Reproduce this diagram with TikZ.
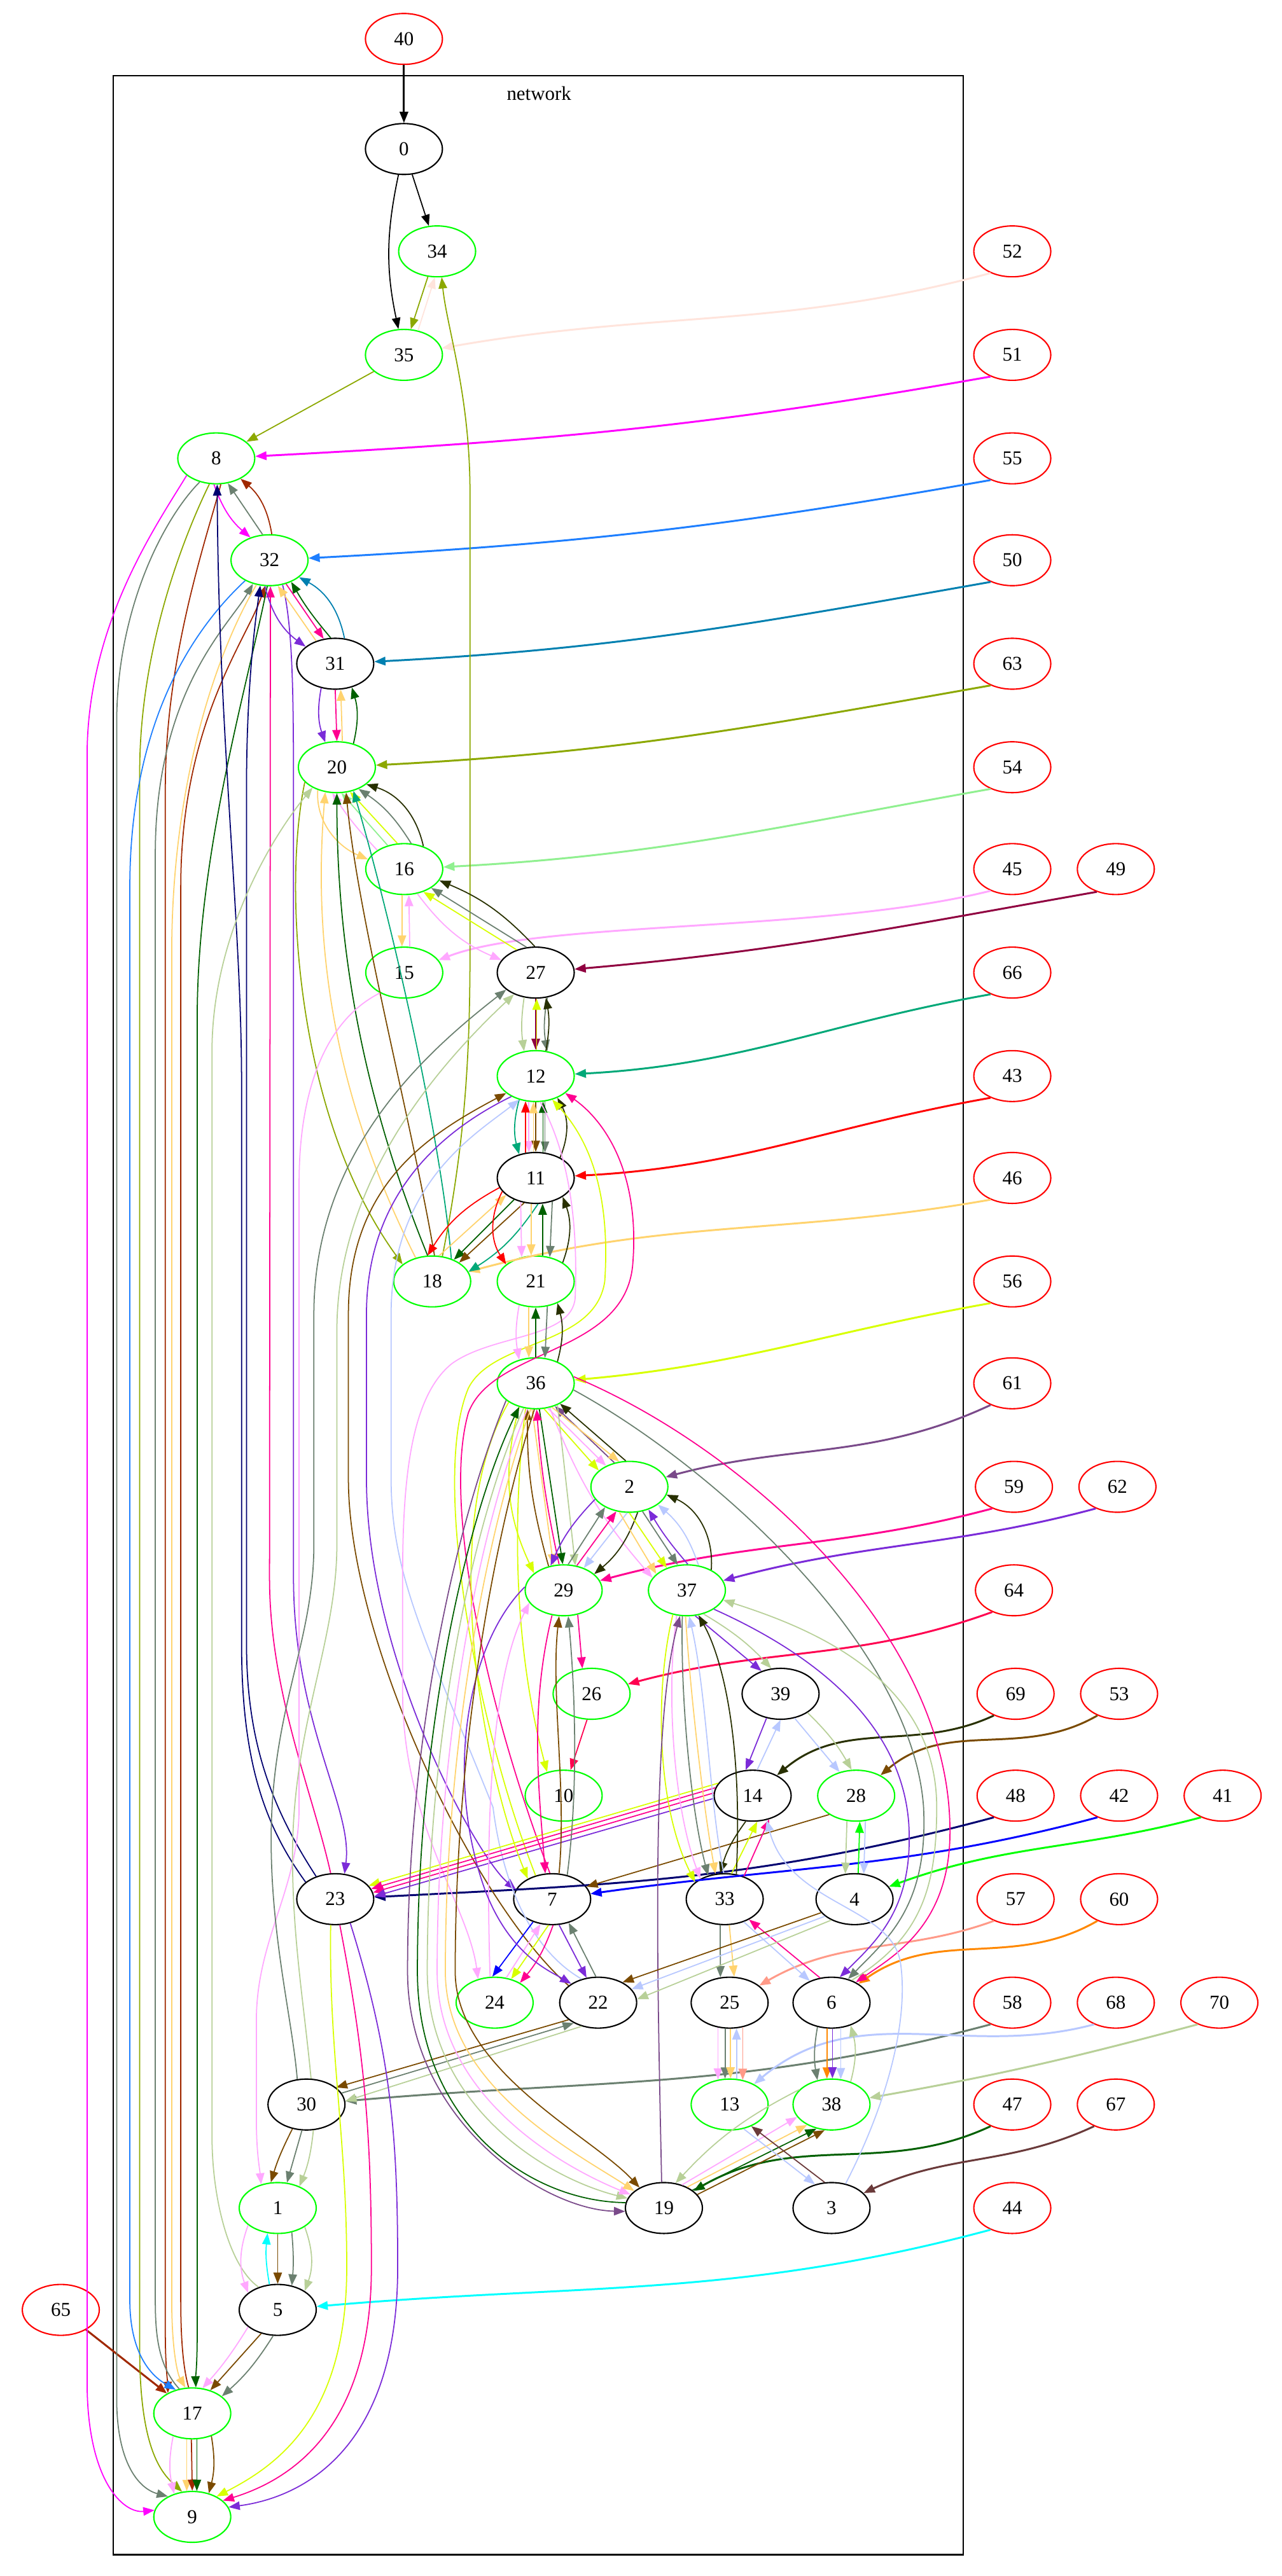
\documentclass[tikz,border=0pt]{standalone}
\usepackage{fontspec}
\setmainfont{Liberation Serif}
\usetikzlibrary{shapes.geometric,arrows.meta}
\definecolor{cOlive}{HTML}{8CA800}
\definecolor{cMag}{HTML}{FF00FF}
\definecolor{cGG}{HTML}{6B8070}
\definecolor{cRB}{HTML}{A02800}
\definecolor{cDodger}{HTML}{1E7FFF}
\definecolor{cTB}{HTML}{0080B0}
\definecolor{cLO}{HTML}{FFD36E}
\definecolor{cLG}{HTML}{90F090}
\definecolor{cPV}{HTML}{FFA8FF}
\definecolor{cCr}{HTML}{900040}
\definecolor{cGT}{HTML}{00A878}
\definecolor{cYel}{HTML}{D8FF00}
\definecolor{cPlum}{HTML}{7A4A8A}
\definecolor{cDP}{HTML}{FF0090}
\definecolor{cPur}{HTML}{7B2BD8}
\definecolor{cCP}{HTML}{FF0050}
\definecolor{cDO}{HTML}{283000}
\definecolor{cBr}{HTML}{7A4A00}
\definecolor{cNavy}{HTML}{000070}
\definecolor{cBlue}{HTML}{0000FF}
\definecolor{cGreen}{HTML}{00FF00}
\definecolor{cSal}{HTML}{FF9A88}
\definecolor{cOr}{HTML}{FF8800}
\definecolor{cLav}{HTML}{B8C8FF}
\definecolor{cLOl}{HTML}{B8D098}
\definecolor{cDG}{HTML}{006000}
\definecolor{cMar}{HTML}{6A3A3A}
\definecolor{cCyan}{HTML}{00FFFF}
\definecolor{cVLP}{HTML}{FFE4DC}
\begin{document}
\begin{tikzpicture}[x=0.025833cm,y=0.025833cm,
  nd/.style={ellipse, draw, line width=0.6pt, minimum width=1.21cm, minimum height=0.8cm, inner sep=0pt, font=\fontsize{8.8}{10}\selectfont},
  gn/.style={nd, draw=cGreen},
  bk/.style={nd, draw=black},
  rd/.style={nd, draw=red},
  e/.style={-{Triangle[length=5pt,width=3.8pt]}, line width=0.5pt},
  th/.style={line width=0.85pt}]
\fill[white] (0,0) rectangle (780,-1568);
\useasboundingbox (0,0) rectangle (780,-1568);
\draw[line width=0.6pt] (69,-46) rectangle (586,-1555);
\node[font=\fontsize{8.8}{10}\selectfont] (lbl) at (328,-57) {network};
% nodes
\node[rd] (n40) at (245.8,-23.7) {40};
\node[bk] (n0) at (245.8,-90.7) {0};
\node[gn] (n34) at (266,-153) {34};
\node[gn] (n35) at (245.8,-216) {35};
\node[gn] (n8) at (131.6,-279) {8};
\node[gn] (n32) at (164,-341) {32};
\node[bk] (n31) at (204,-404) {31};
\node[gn] (n20) at (205,-467) {20};
\node[gn] (n16) at (246,-529) {16};
\node[gn] (n15) at (246,-592) {15};
\node[bk] (n27) at (326,-592) {27};
\node[gn] (n12) at (326,-655) {12};
\node[bk] (n11) at (326,-717) {11};
\node[gn] (n18) at (263,-780) {18};
\node[gn] (n21) at (326,-780) {21};
\node[gn] (n36) at (326,-842) {36};
\node[gn] (n2) at (383,-905) {2};
\node[gn] (n29) at (343,-968) {29};
\node[gn] (n37) at (418,-968) {37};
\node[gn] (n26) at (360,-1031) {26};
\node[bk] (n39) at (475,-1031) {39};
\node[gn] (n10) at (343,-1093) {10};
\node[bk] (n14) at (458,-1093) {14};
\node[gn] (n28) at (521,-1093) {28};
\node[bk] (n23) at (204,-1156) {23};
\node[bk] (n7) at (336,-1156) {7};
\node[bk] (n33) at (441,-1156) {33};
\node[bk] (n4) at (520,-1156) {4};
\node[gn] (n24) at (301,-1219) {24};
\node[bk] (n22) at (364,-1219) {22};
\node[bk] (n25) at (444,-1219) {25};
\node[bk] (n6) at (506,-1219) {6};
\node[bk] (n30) at (186.5,-1281) {30};
\node[gn] (n13) at (444,-1281) {13};
\node[gn] (n38) at (506,-1281) {38};
\node[gn] (n1) at (169,-1344) {1};
\node[bk] (n19) at (404,-1344) {19};
\node[bk] (n3) at (506,-1344) {3};
\node[bk] (n5) at (169,-1406) {5};
\node[gn] (n17) at (117,-1469) {17};
\node[gn] (n9) at (117,-1532) {9};
% external nodes
\node[rd] (n52) at (616,-153) {52};
\node[rd] (n51) at (616,-216) {51};
\node[rd] (n55) at (616,-279) {55};
\node[rd] (n50) at (616,-341) {50};
\node[rd] (n63) at (616,-404) {63};
\node[rd] (n54) at (616,-467) {54};
\node[rd] (n45) at (616,-529) {45};
\node[rd] (n49) at (679,-529) {49};
\node[rd] (n66) at (616,-592) {66};
\node[rd] (n43) at (616,-655) {43};
\node[rd] (n46) at (616,-717) {46};
\node[rd] (n56) at (616,-780) {56};
\node[rd] (n61) at (616,-842) {61};
\node[rd] (n59) at (617,-905) {59};
\node[rd] (n62) at (680,-905) {62};
\node[rd] (n64) at (617,-968) {64};
\node[rd] (n69) at (618,-1031) {69};
\node[rd] (n53) at (681,-1031) {53};
\node[rd] (n48) at (618,-1093) {48};
\node[rd] (n42) at (681,-1093) {42};
\node[rd] (n41) at (744,-1093) {41};
\node[rd] (n57) at (618,-1156) {57};
\node[rd] (n60) at (681,-1156) {60};
\node[rd] (n58) at (616,-1219) {58};
\node[rd] (n68) at (679,-1219) {68};
\node[rd] (n70) at (742,-1219) {70};
\node[rd] (n47) at (616,-1281) {47};
\node[rd] (n67) at (679,-1281) {67};
\node[rd] (n44) at (616,-1344) {44};
\node[rd] (n65) at (37,-1406) {65};
% external edges
\draw[e,th] (n40) -- (n0);
\draw[e,th,cVLP] (n52.225) to[out=195,in=10] (n35);
\draw[e,th,cMag] (n51.225) to[out=190,in=3] (n8);
\draw[e,th,cDodger] (n55.225) to[out=190,in=3] (n32);
\draw[e,th,cTB] (n50.225) to[out=190,in=3] (n31);
\draw[e,th,cOlive] (n63.225) to[out=190,in=3] (n20);
\draw[e,th,cLG] (n54.225) to[out=190,in=3] (n16);
\draw[e,th,cPV] (n45.225) .. controls (500,-568) and (330,-560) .. (n15.20);
\draw[e,th,cCr] (n49.230) to[out=190,in=5] (n27);
\draw[e,th,cGT] (n66.225) to[out=190,in=3] (n12);
\draw[e,th,red] (n43.225) to[out=190,in=3] (n11);
\draw[e,th,cLO] (n46.225) to[out=190,in=15] (n18);
\draw[e,th,cYel] (n56.225) to[out=190,in=5] (n36);
\draw[e,th,cPlum] (n61.225) to[out=205,in=15] (n2);
\draw[e,th,cDP] (n59.225) to[out=195,in=15] (n29);
\draw[e,th,cPur] (n62.225) to[out=195,in=15] (n37);
\draw[e,th,cCP] (n64.225) to[out=200,in=15] (n26);
\draw[e,th,cDO] (n69.225) to[out=205,in=40] (n14);
\draw[e,th,cBr] (n53.225) to[out=210,in=40] (n28);
\draw[e,th,cNavy] (n48.225) to[out=195,in=3] (n23);
\draw[e,th,cBlue] (n42.225) to[out=195,in=8] (n7);
\draw[e,th,cGreen] (n41.225) to[out=195,in=20] (n4);
\draw[e,th,cSal] (n57.225) to[out=200,in=30] (n25);
\draw[e,th,cOr] (n60.225) to[out=210,in=35] (n6);
\draw[e,th,cGG] (n58.225) to[out=195,in=5] (n30);
\draw[e,th,cLav] (n68.225) to[out=195,in=40] (n13);
\draw[e,th,cLOl] (n70.225) to[out=195,in=10] (n38);
\draw[e,th,cDG] (n47.225) to[out=205,in=30] (n19);
\draw[e,th,cMar] (n67.225) to[out=205,in=25] (n3);
\draw[e,th,cCyan] (n44.225) to[out=195,in=5] (n5);
\draw[e,th,cRB] (n65) -- (n17);
% top
\draw[e] (n0) -- (n34);
\draw[e] (n0) to[bend right=12] (n35);
\draw[e,cOlive] (n34.-110) -- (n35.75);
\draw[e,cVLP] (n35.60) -- (n34.-95);
\draw[e,cOlive] (n35) -- (n8);
% 8 / 32
\draw[e,cMag] (n8.-95) to[bend right=15] (n32.130);
\draw[e,cGG] (n32.105) -- (n8.-65);
\draw[e,cRB] (n32.85) to[bend right=20] (n8.-40);
\draw[e,cMag] (n8.-150) .. controls (95,-320) and (53,-380) .. (53,-460) -- (53,-1450) .. controls (53,-1510) and (75,-1530) .. (n9.170);
\draw[e,cGG] (n8.-125) .. controls (100,-315) and (71,-370) .. (71,-440) -- (71,-1460) .. controls (71,-1500) and (85,-1515) .. (n9.140);
\draw[e,cOlive] (n8.-105) .. controls (115,-320) and (85,-390) .. (85,-470) -- (85,-1430) .. controls (85,-1490) and (98,-1505) .. (n9.112);
\draw[e,cRB] (n8.-80) .. controls (125,-330) and (100.6,-400) .. (100.6,-480) -- (100.6,-1420) .. controls (100.6,-1440) and (102,-1450) .. (n17.140);
\draw[e,cDodger] (n32.-140) .. controls (110,-390) and (79,-450) .. (79,-540) -- (79,-1400) .. controls (79,-1430) and (90,-1445) .. (n17.125);
\draw[e,cGG] (n17.118) .. controls (96,-1440) and (94.5,-1420) .. (94.5,-1400) -- (94.5,-520) .. controls (94.5,-420) and (140,-380) .. (n32.-125);
\draw[e,cLO] (n32.-118) .. controls (130,-400) and (104.5,-480) .. (104.5,-580) -- (104.5,-1400) .. controls (104.5,-1430) and (108,-1445) .. (n17.105);
\draw[e,cRB] (n17.98) .. controls (111,-1440) and (110,-1420) .. (110,-1400) -- (110,-540) .. controls (110,-440) and (150,-390) .. (n32.-100);
\draw[e,cDG] (n32.-95) .. controls (150,-420) and (120,-520) .. (120,-620) -- (120,-1420) .. controls (120,-1440) and (119,-1448) .. (n17.82);
\draw[e,cNavy] (n23.150) .. controls (160,-1110) and (147,-1070) .. (147,-1000) -- (147,-660) .. controls (147,-560) and (133,-450) .. (n8.-88);
\draw[e,cNavy] (n23.130) .. controls (165,-1100) and (150,-1060) .. (150,-1000) -- (150,-480) .. controls (150,-420) and (155,-380) .. (n32.-110);
\draw[e,cDP] (n23.100) .. controls (190,-1090) and (164,-1030) .. (164,-960) -- (n32.-88);
\draw[e,cPur] (n32.-62) .. controls (178,-380) and (178.6,-420) .. (178.6,-480) -- (178.6,-960) .. controls (178.6,-1050) and (215,-1100) .. (n23.70);
% 31
\draw[e,cPur] (n32.-100) to[bend right=20] (n31.150);
\draw[e,cDP] (n32.-55) -- (n31.115);
\draw[e,cDG] (n31.100) to[bend left=5] (n32.-45);
\draw[e,cTB] (n31.70) to[bend right=25] (n32.-30);
\draw[e,cLO] (n31.130) -- (n32.-72);
\draw[e,cPur] (n31.-120) to[bend right=15] (n20.115);
\draw[e,cDP] (n31.-90) -- (n20.90);
\draw[e,cLO] (n20.78) -- (n31.-78);
\draw[e,cDG] (n20.55) to[bend right=15] (n31.-55);
% 20 / 16 / 18
\draw[e,cOlive] (n20.-155) .. controls (172,-540) and (180,-680) .. (n18.150);
\draw[e,cLO] (n20.-130) .. controls (192,-500) and (205,-515) .. (n16.165);
\draw[e,cPV] (n16.145) to[bend left=5] (n20.-100);
\draw[e,cLG] (n16.125) -- (n20.-80);
\draw[e,cYel] (n16.105) -- (n20.-62);
\draw[e,cGG] (n16.75) to[bend right=12] (n20.-45);
\draw[e,cDO] (n16.50) to[bend right=30] (n20.-30);
\draw[e,cLO] (n18.125) .. controls (215,-690) and (188,-600) .. (n20.-115);
\draw[e,cDG] (n18.100) .. controls (230,-690) and (205,-600) .. (n20.-90);
\draw[e,cBr] (n18.85) .. controls (250,-680) and (218,-560) .. (n20.-70);
\draw[e,cGT] (n18.50) .. controls (268,-690) and (238,-560) .. (n20.-55);
\draw[e,cOlive] (n18.68) .. controls (282,-700) and (286,-650) .. (286,-580) -- (286,-300) .. controls (286,-240) and (272,-200) .. (n34.-80);
\draw[e,cLOl] (n5.130) .. controls (140,-1380) and (129,-1340) .. (129,-1300) -- (129,-640) .. controls (129,-570) and (165,-510) .. (n20.-140);
% 16 / 15 / 27
\draw[e,cLO] (n16.-95) -- (n15.95);
\draw[e,cPV] (n15.78) -- (n16.-80);
\draw[e,cPV] (n16.-62) to[bend right=15] (n27.160);
\draw[e,cYel] (n27.130) -- (n16.-50);
\draw[e,cGG] (n27.110) -- (n16.-35);
\draw[e,cDO] (n27.92) to[bend right=12] (n16.-18);
\draw[e,cPV] (n15.-140) .. controls (200,-620) and (182,-660) .. (182,-720) -- (182,-1100) .. controls (182,-1150) and (156,-1180) .. (156,-1230) -- (156,-1290) .. controls (156,-1310) and (158,-1320) .. (n1.125);
% 27 / 12
\draw[e,cLOl] (n27.-115) to[bend right=8] (n12.115);
\draw[e,cCr] (n27.-90) -- (n12.90);
\draw[e,cYel] (n12.88) -- (n27.-88);
\draw[e,cGG] (n27.-65) to[bend right=10] (n12.65);
\draw[e,cDO] (n12.68) to[bend right=10] (n27.-68);
\draw[e,cGG] (n30.110) .. controls (178,-1230) and (165,-1180) .. (165,-1120) .. controls (165,-1040) and (191,-1000) .. (191,-940) -- (191,-800) .. controls (191,-700) and (260,-640) .. (n27.-150);
\draw[e,cLOl] (n30.80) .. controls (185,-1220) and (178,-1180) .. (178,-1130) .. controls (178,-1050) and (205,-1000) .. (205,-940) -- (205,-810) .. controls (205,-720) and (265,-650) .. (n27.-135);
% 12 / 11
\draw[e,cGT] (n12.-125) to[bend right=15] (n11.125);
\draw[e,cPV] (n12.-105) -- (n11.105);
\draw[e,red] (n11.112) -- (n12.-112);
\draw[e,cBr] (n12.-90) -- (n11.90);
\draw[e,cLO] (n11.95) -- (n12.-95);
\draw[e,cGG] (n12.-70) -- (n11.70);
\draw[e,cDG] (n11.74) -- (n12.-74);
\draw[e,cDO] (n11.40) to[bend right=25] (n12.-45);
\draw[e,cBr] (n22.150) .. controls (290,-1160) and (212,-1000) .. (212,-900) -- (212,-800) .. controls (212,-720) and (262,-690) .. (n12.-150);
\draw[e,cPur] (n12.-140) .. controls (265,-690) and (223,-730) .. (223,-800) -- (223,-900) .. controls (223,-1010) and (290,-1130) .. (n7.165);
\draw[e,cLav] (n22.125) .. controls (320,-1185) and (305,-1140) .. (300,-1100) .. controls (260,-1000) and (238,-960) .. (238,-900) -- (238,-800) .. controls (238,-720) and (290,-690) .. (n12.-125);
\draw[e,cYel] (n7.125) .. controls (290,-1050) and (262,-900) .. (285,-845) .. controls (300,-815) and (362,-820) .. (368,-780) .. controls (372,-720) and (355,-690) .. (n12.-55);
\draw[e,cDP] (n7.95) .. controls (300,-1050) and (268,-920) .. (285,-860) .. controls (300,-820) and (380,-825) .. (385,-770) .. controls (390,-710) and (365,-680) .. (n12.-30);
\draw[e,cPV] (n12.-80) .. controls (345,-700) and (352,-740) .. (350,-790) .. controls (348,-815) and (300,-812) .. (275,-830) .. controls (250,-850) and (245,-900) .. (245,-960) -- (245,-1030) .. controls (245,-1110) and (285,-1160) .. (n24.125);
% 11 / 18 / 21
\draw[e,red] (n11.-165) to[bend right=15] (n18.100);
\draw[e,cLO] (n18.75) -- (n11.-150);
\draw[e,cDG] (n11.-135) -- (n18.45);
\draw[e,cBr] (n11.-115) -- (n18.35);
\draw[e,cGT] (n11.-85) to[bend left=12] (n18.15);
\draw[e,red] (n11.-158) to[bend right=30] (n21.150);
\draw[e,cPV] (n11.-122) -- (n21.120);
\draw[e,cLO] (n11.-100) -- (n21.100);
\draw[e,cDG] (n21.75) -- (n11.-75);
\draw[e,cGG] (n11.-55) -- (n21.60);
\draw[e,cDO] (n21.35) to[bend right=20] (n11.-35);
% 21 / 36
\draw[e,cPV] (n21.-125) to[bend right=10] (n36.125);
\draw[e,cLO] (n21.-105) -- (n36.105);
\draw[e,cDG] (n36.90) -- (n21.-90);
\draw[e,cGG] (n21.-65) -- (n36.70);
\draw[e,cDO] (n36.45) to[bend right=15] (n21.-45);
% 36 / 2 / 29 / 37
\draw[e,cYel] (n36.-72) -- (n2.152);
\draw[e,cPV] (n36.-64) -- (n2.138);
\draw[e,cPlum] (n2.122) -- (n36.-50);
\draw[e,cLO] (n36.-56) -- (n2.112);
\draw[e,cDO] (n2.98) -- (n36.-40);
\draw[e,cYel] (n36.-125) to[bend right=20] (n29.150);
\draw[e,cLO] (n36.-98) -- (n29.112);
\draw[e,cDG] (n36.-82) -- (n29.92);
\draw[e,cBr] (n29.122) to[bend left=8] (n36.-108);
\draw[e,cDP] (n29.100) to[bend left=4] (n36.-88);
\draw[e,cLOl] (n36.-45) -- (n29.65);
\draw[e,cPV] (n36.-60) to[bend right=10] (n37.160);
\draw[e,cGG] (n29.80) -- (n2.-140);
\draw[e,cDP] (n29.62) -- (n2.-118);
\draw[e,cPur] (n2.-160) to[bend right=10] (n29.118);
\draw[e,cLav] (n2.-95) -- (n29.48);
\draw[e,cDO] (n2.-72) to[bend left=15] (n29.28);
\draw[e,cGG] (n2.-62) -- (n37.110);
\draw[e,cLO] (n2.-112) -- (n37.152);
\draw[e,cYel] (n2.-90) -- (n37.132);
\draw[e,cPur] (n37.88) to[bend left=5] (n2.-50);
\draw[e,cLav] (n37.65) to[bend right=15] (n2.-32);
\draw[e,cDO] (n37.40) to[bend right=35] (n2.-12);
% right bulge to 6
\draw[e,cDP] (n36.10) .. controls (450,-880) and (575,-990) .. (578,-1110) .. controls (580,-1170) and (545,-1190) .. (n6.40);
\draw[e,cGG] (n36.-10) .. controls (430,-890) and (555,-1000) .. (562,-1100) .. controls (565,-1160) and (540,-1180) .. (n6.55);
\draw[e,cPur] (n37.-35) .. controls (480,-1000) and (548,-1040) .. (553,-1110) .. controls (556,-1160) and (535,-1180) .. (n6.72);
\draw[e,cLOl] (n6.48) .. controls (560,-1180) and (570,-1150) .. (570,-1100) .. controls (570,-1020) and (490,-990) .. (n37.-15);
% 29 / 26 / 10
\draw[e,cDP] (n29.-60) -- (n26.110);
\draw[e,cCP] (n26.-100) -- (n10.75);
\draw[e,cYel] (n36.-112) .. controls (312,-920) and (312,-1000) .. (n10.125);
% 37 / 39 / 14 / 28 / 4
\draw[e,cPur] (n37.-72) -- (n39.130);
\draw[e,cLOl] (n37.-55) to[bend left=8] (n39.110);
\draw[e,cPur] (n39.-120) -- (n14.105);
\draw[e,cLav] (n14.80) -- (n39.-90);
\draw[e,cLav] (n39.-60) -- (n28.125);
\draw[e,cLOl] (n39.-35) to[bend left=8] (n28.100);
\draw[e,cLOl] (n28.-110) -- (n4.110);
\draw[e,cGreen] (n4.82) -- (n28.-82);
\draw[e,cLav] (n28.-70) -- (n4.70);
\draw[e,cBr] (n28.-145) -- (n7.20);
% 14 / 23
\draw[e,cYel] (n14.160) -- (n23.22);
\draw[e,cDP] (n14.168) -- (n23.16);
\draw[e,cDP] (n14.176) -- (n23.10);
\draw[e,cPur] (n14.184) -- (n23.4);
% 14 / 33 / 37
\draw[e,cDO] (n14.-105) to[bend right=10] (n33.100);
\draw[e,cYel] (n33.75) -- (n14.-80);
\draw[e,cDP] (n33.50) -- (n14.-55);
\draw[e,cDO] (n33.65) .. controls (452,-1060) and (440,-1010) .. (n37.-65);
\draw[e,cYel] (n37.-120) .. controls (398,-1030) and (400,-1100) .. (n33.150);
\draw[e,cPV] (n37.-112) .. controls (405,-1030) and (410,-1100) .. (n33.140);
\draw[e,cGG] (n37.-100) .. controls (414,-1030) and (420,-1100) .. (n33.125);
\draw[e,cLO] (n37.-93) .. controls (420,-1030) and (428,-1100) .. (n33.110);
\draw[e,cLav] (n33.92) .. controls (432,-1100) and (430,-1030) .. (n37.-85);
\draw[e,cPlum] (n19.95) .. controls (400,-1200) and (396,-1050) .. (n37.-105);
% 33 / 25 / 6 / 13 / 38
\draw[e,cGG] (n33.-100) -- (n25.110);
\draw[e,cLO] (n33.-80) -- (n25.80);
\draw[e,cLav] (n33.-50) -- (n6.135);
\draw[e,cDP] (n6.115) -- (n33.-40);
\draw[e,cLav] (n13.75) -- (n25.-75);
\draw[e,cPV] (n25.-115) -- (n13.115);
\draw[e,cGG] (n25.-100) -- (n13.100);
\draw[e,cLO] (n25.-88) -- (n13.88);
\draw[e,cSal] (n25.-62) -- (n13.62);
\draw[e,cGG] (n6.-120) to[bend right=10] (n38.120);
\draw[e,cOr] (n6.-100) -- (n38.100);
\draw[e,cPur] (n6.-88) -- (n38.88);
\draw[e,cLav] (n6.-70) -- (n38.70);
\draw[e,cLOl] (n38.50) to[bend right=15] (n6.-50);
\draw[e,cLOl] (n38.155) to[bend right=10] (n19.65);
\draw[e,cPV] (n19.52) -- (n38.-160);
\draw[e,cLO] (n19.42) -- (n38.-140);
\draw[e,cDG] (n19.32) -- (n38.-122);
\draw[e,cBr] (n19.22) -- (n38.-105);
\draw[e,cLav] (n13.-60) -- (n3.125);
\draw[e,cMar] (n3.105) -- (n13.-45);
\draw[e,cLav] (n3.60) .. controls (540,-1280) and (553,-1230) .. (548,-1195) .. controls (543,-1160) and (480,-1160) .. (n14.-60);
% 4 / 22 / 30 / 7 / 24
\draw[e,cBr] (n4.-158) -- (n22.40);
\draw[e,cLav] (n4.-150) -- (n22.22);
\draw[e,cLOl] (n4.-138) -- (n22.5);
\draw[e,cBr] (n22.-150) -- (n30.30);
\draw[e,cGG] (n30.18) -- (n22.-140);
\draw[e,cLOl] (n22.-125) -- (n30.5);
\draw[e,cGG] (n22.95) -- (n7.-55);
\draw[e,cPur] (n7.-75) -- (n22.115);
\draw[e,cPV] (n24.65) -- (n7.-115);
\draw[e,cBlue] (n7.-130) -- (n24.95);
\draw[e,cYel] (n7.-98) -- (n24.55);
\draw[e,cDP] (n7.-88) to[bend left=10] (n24.38);
\draw[e,cYel] (n36.-145) .. controls (265,-930) and (295,-1080) .. (n7.140);
\draw[e,cDP] (n29.-115) .. controls (322,-1040) and (328,-1090) .. (n7.105);
\draw[e,cBr] (n7.75) .. controls (345,-1090) and (335,-1030) .. (n29.-100);
\draw[e,cGG] (n7.58) .. controls (352,-1090) and (350,-1030) .. (n29.-80);
\draw[e,cPV] (n24.100) .. controls (295,-1100) and (300,-1020) .. (n29.-160);
\draw[e,cPur] (n29.175) .. controls (285,-1000) and (270,-1080) .. (295,-1150) .. controls (310,-1190) and (335,-1200) .. (n22.145);
% 36 <-> 19 arcs
\draw[e,cPlum] (n36.-150) .. controls (280,-920) and (248,-1050) .. (248,-1200) .. controls (248,-1290) and (330,-1345) .. (n19.185);
\draw[e,cDG] (n19.172) .. controls (320,-1340) and (254,-1290) .. (254,-1200) .. controls (254,-1050) and (285,-920) .. (n36.-125);
\draw[e,cLOl] (n36.-116) .. controls (290,-920) and (260,-1050) .. (260,-1200) .. controls (260,-1280) and (330,-1325) .. (n19.165);
\draw[e,cPV] (n36.-108) .. controls (295,-920) and (266,-1050) .. (266,-1200) .. controls (266,-1275) and (340,-1318) .. (n19.158);
\draw[e,cLO] (n36.-101) .. controls (300,-920) and (271,-1050) .. (271,-1200) .. controls (271,-1270) and (350,-1310) .. (n19.150);
\draw[e,cBr] (n36.-93) .. controls (305,-920) and (277,-1050) .. (277,-1200) .. controls (277,-1260) and (360,-1300) .. (n19.140);
% 30 / 1 / 5 / 17 / 9
\draw[e,cBr] (n30.-120) to[bend right=5] (n1.105);
\draw[e,cGG] (n30.-100) -- (n1.70);
\draw[e,cLOl] (n30.-75) to[bend left=8] (n1.45);
\draw[e,cPV] (n1.-150) to[bend right=20] (n5.150);
\draw[e,cCyan] (n5.108) to[bend left=8] (n1.-112);
\draw[e,cBr] (n1.-90) -- (n5.90);
\draw[e,cGG] (n1.-60) to[bend left=5] (n5.60);
\draw[e,cLOl] (n1.-35) to[bend left=20] (n5.35);
\draw[e,cPV] (n5.-150) to[bend left=5] (n17.68);
\draw[e,cBr] (n5.-125) -- (n17.52);
\draw[e,cGG] (n5.-100) to[bend left=8] (n17.30);
\draw[e,cPV] (n17.-130) to[bend right=12] (n9.128);
\draw[e,cLO] (n17.-102) -- (n9.102);
\draw[e,cRB] (n17.-92) -- (n9.90);
\draw[e,cDG] (n17.-80) -- (n9.80);
\draw[e,cBr] (n17.-50) to[bend left=12] (n9.55);
\draw[e,cYel] (n23.-100) .. controls (200,-1250) and (211,-1300) .. (211,-1380) .. controls (211,-1470) and (170,-1500) .. (n9.40);
\draw[e,cDP] (n23.-80) .. controls (222,-1250) and (226,-1300) .. (226,-1380) .. controls (226,-1480) and (175,-1510) .. (n9.28);
\draw[e,cPur] (n23.-58) .. controls (238,-1250) and (242,-1300) .. (242,-1380) .. controls (242,-1490) and (185,-1520) .. (n9.15);
\end{tikzpicture}
\end{document}
